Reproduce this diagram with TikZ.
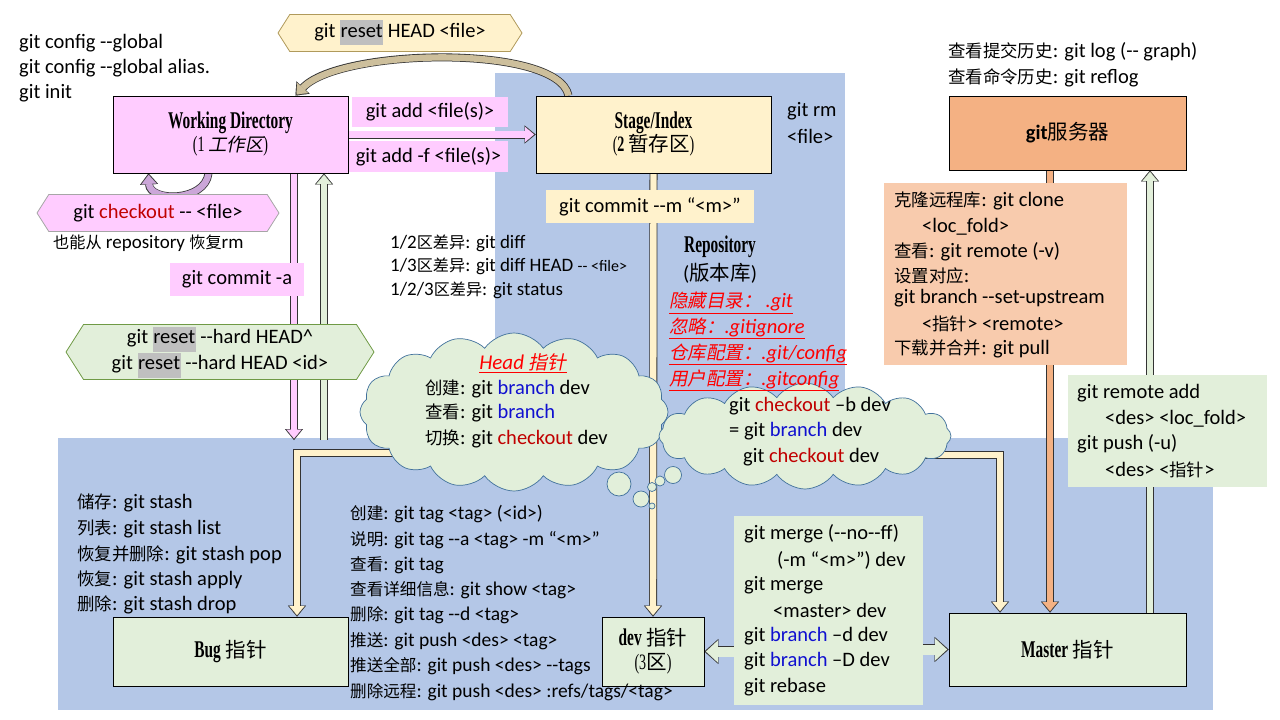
\documentclass[tikz,border=0pt]{standalone}
\usepackage{fontspec}
\setmainfont{Carlito}[Ligatures=TeXOff]
\newfontfamily\cjk{Noto Sans CJK SC}[Scale=0.85]
\newfontfamily\cjkbig{Noto Sans CJK SC}
\newfontfamily\cjkit{Noto Sans CJK SC}[FakeSlant=0.2, Scale=0.9]
\newfontfamily\ttl{Liberation Serif}[FakeStretch=0.64]
\usetikzlibrary{arrows.meta,shapes.symbols}

\definecolor{bluebg}{HTML}{B4C7E7}
\definecolor{pinkfill}{HTML}{FFCCFF}
\definecolor{cream}{HTML}{FFF2CC}
\definecolor{greenfill}{HTML}{E2EFDA}
\definecolor{orangefill}{HTML}{F4B183}
\definecolor{orangelight}{HTML}{F8CBAD}
\definecolor{hexgold}{HTML}{B09A5B}
\definecolor{hexgreen}{HTML}{6F9A45}
\definecolor{cloudline}{HTML}{41719C}
\definecolor{hlgray}{HTML}{BFBFBF}
\definecolor{ckred}{HTML}{C00000}
\definecolor{brblue}{HTML}{1010D0}
\definecolor{linkred}{HTML}{FF0000}
\definecolor{resettan}{HTML}{CDBF9C}
\definecolor{lilac}{HTML}{CBA6D8}

\newcommand\z[1]{{\cjk #1}}
\newcommand\zb[1]{{\cjkbig #1}}
\newcommand\ttlb[1]{{\ttl\bfseries\fontsize{24}{26}\selectfont #1}}
\newcommand\ckc[1]{\textcolor{ckred}{#1}}
\newcommand\brc[1]{\textcolor{brblue}{#1}}
\newcommand\hl[1]{{\setlength{\fboxsep}{0.5pt}\colorbox{hlgray}{\strut #1}}}
\newcommand\lnk[2]{\textcolor{linkred}{\underline{{\cjkit #1}\textit{#2}}}}

\pgfdeclarelayer{bg}
\pgfdeclarelayer{arr}
\pgfsetlayers{bg,arr,main}

\begin{document}
\begin{tikzpicture}[x=1pt, y=-1pt, font=\fontsize{20.5}{24}\selectfont,
  box/.style={draw=black, line width=0.8pt, fill=#1, inner sep=2pt, align=center},
  tagbox/.style={fill=#1, inner sep=0pt},
  lbl/.style={anchor=west, inner sep=0pt},
  hexa/.style={signal, signal to=east and west, signal pointer angle=115, fill=#1, line width=0.8pt, inner sep=1pt, align=center},
  puff/.style={cloud, cloud puffs=16, cloud puff arc=110, cloud ignores aspect, draw=cloudline, fill=greenfill, line width=0.7pt, inner sep=0pt},
  bubble/.style={circle, draw=cloudline, fill=greenfill, line width=0.7pt, inner sep=0pt},
  blockarrow/.style={line join=miter, draw=#1, line width=6.4pt, shorten >=1.5pt,
    -{Triangle[length=9pt, width=15pt, fill=#1, line width=0.1pt]},
    preaction={draw=black!80, line width=8pt, shorten >=0pt, -{Triangle[length=11pt, width=18pt, line width=0.1pt]}}},
  widearrow/.style={line join=miter, draw=#1, line width=10pt, shorten >=1.5pt,
    -{Triangle[length=12pt, width=22pt, fill=#1, line width=0.1pt]},
    preaction={draw=black!80, line width=11.6pt, shorten >=0pt, -{Triangle[length=14pt, width=25pt, line width=0.1pt]}}}]
	\useasboundingbox (0,0) rectangle (1280,720);

	% Blue areas
	\begin{pgfonlayer}{bg}
		\fill[bluebg] (495,73) rectangle (845,440);
		\fill[bluebg] (58,438) rectangle (1213,710);
	\end{pgfonlayer}

	% Main areas and pointers
	\node[box=pinkfill, minimum width=235pt, minimum height=77pt] (wd) at (230.5,134.5) {\ttlb{Working Directory}\\[-1pt]{\ttl\fontsize{22}{24}\selectfont (1 }{\cjkit 工作区}{\ttl\fontsize{22}{24}\selectfont )}};
	\node[box=cream, minimum width=235pt, minimum height=77pt] (stage) at (653.5,134.5) {\ttlb{Stage/Index}\\[-1pt]{\ttl\fontsize{22}{24}\selectfont (\textbf{2} }\zb{暂存区}{\ttl\fontsize{22}{24}\selectfont )}};
	\node[box=orangefill, minimum width=237pt, minimum height=74pt] (server) at (1067.5,133) {\textbf{git}\zb{服务器}};
	\node[box=greenfill, minimum width=235pt, minimum height=69pt] (bug) at (230.5,651.5) {\ttlb{Bug} \zb{指针}};
	\node[box=greenfill, minimum width=102pt, minimum height=69pt] (dev) at (653,651.5) {\ttlb{dev} \zb{指针}\\{\ttl\fontsize{22}{24}\selectfont (3}\zb{区}{\ttl\fontsize{22}{24}\selectfont )}};
	\node[box=greenfill, minimum width=237pt, minimum height=73pt] (master) at (1067.5,649.5) {\ttlb{Master} \zb{指针}};

	% Command boxes
	\node[tagbox=pinkfill, minimum width=156pt, minimum height=30pt] (add) at (430,112) {git add <file(s)>};
	\node[tagbox=pinkfill, minimum width=159pt, minimum height=31pt] (addf) at (428.5,156.5) {git add -f <file(s)>};
	\node[tagbox=pinkfill, minimum width=134pt, minimum height=33pt] (cma) at (237,279.5) {git commit -a};
	\node[tagbox=cream, minimum width=208pt, minimum height=33pt] (cmm) at (650,206.5) {git commit --m “<m>”};
	\node[tagbox=orangelight, minimum width=243pt, minimum height=182pt] (clonebox) at (1005.5,274) {};
	\node[tagbox=greenfill, minimum width=199pt, minimum height=112pt] (pushbox) at (1167.5,431) {};
	\node[tagbox=greenfill, minimum width=189pt, minimum height=189pt] (mergebox) at (828.5,610.5) {};

	% Hexagons
	\node[hexa=cream, draw=hexgold, minimum width=244pt, minimum height=37pt] (rst) at (400,33) {git \hl{reset} HEAD <file>};
	\node[hexa=pinkfill, draw=gray!70, minimum width=242pt, minimum height=37pt] (ckfile) at (158,213) {git \ckc{checkout} -- <file>};
	\node[hexa=greenfill, draw=hexgreen, minimum width=308pt, minimum height=55pt] (hard) at (220,352) {git \hl{reset} --hard HEAD\textasciicircum\\git \hl{reset} --hard HEAD <id>};

	% Clouds
	\node[puff, minimum width=308pt, minimum height=158pt] (head) at (514,412) {};
	\node[puff, minimum width=292pt, minimum height=106pt] (cko) at (805,436) {};
	\node[bubble, minimum size=24pt] (bb1) at (619,484) {};
	\node[bubble, minimum size=16pt] (bb2) at (641,499) {};
	\node[bubble, minimum size=9pt] (bb3) at (652,487) {};
	\node[bubble, minimum size=10pt] (bb4) at (660,481) {};
	\node[bubble, minimum size=17pt] (bb5) at (673,475) {};
	\node[bubble, minimum size=6pt] (bb6) at (652,506) {};

	% Arrows
	\begin{pgfonlayer}{arr}
		\coordinate (pinkend) at (294,440);
		\coordinate (greenbeg) at (324,440);
		\coordinate (lbend) at (297,453);
		\coordinate (rbend) at (1000,455);
		\draw[blockarrow=pinkfill] (wd.east) -- (stage.west);
		\draw[blockarrow=pinkfill] (wd.south -| pinkend) -- (pinkend);
		\draw[blockarrow=greenfill] (greenbeg) -- (wd.south -| greenbeg);
		\draw[blockarrow=cream] (stage.south) -- (dev.north);
		\draw[blockarrow=orangefill] ([xshift=-17.5pt]server.south) -- ([xshift=-17.5pt]master.north);
		\draw[blockarrow=greenfill] ([xshift=82.5pt]master.north) -- ([xshift=82.5pt]server.south);
		\draw[blockarrow=cream] (head.center |- lbend) -- (lbend) -- (lbend |- bug.north);
		\draw[blockarrow=cream] (cko.center |- rbend) -- (rbend) -- (rbend |- master.north);
		\draw[blockarrow=resettan] ([xshift=-85pt]stage.north) .. controls (558,44) and (340,48) .. ([xshift=65pt]wd.north);
		\draw[blockarrow=lilac] ([xshift=-22pt]wd.south) .. controls (205,202) and (150,202) .. ([xshift=-82pt]wd.south);
		\draw[widearrow=greenfill] (mergebox.west |- dev.east) -- (dev.east);
		\draw[widearrow=greenfill] (mergebox.east |- master.west) -- (master.west);
	\end{pgfonlayer}

	% Free texts
	\foreach \t [count=\i] in {git config --global, git config --global alias., git init}
		\node[lbl] (cfg\i) at (19,18+25*\i) {\t};
	\node[lbl] (log1) at (948,52) {\z{查看提交历史}: git log (-- graph)};
	\node[lbl] (log2) at (948,78) {\z{查看命令历史}: git reflog};
	\node[lbl] (rm1) at (787,111) {git rm};
	\node[lbl] (rm2) at (787,136) {<file>};
	\node[lbl, font=\fontsize{19}{22}\selectfont] (restore) at (53,243) {\z{也能从} repository \z{恢复}rm};
	\node[lbl, font=\fontsize{19}{22}\selectfont] (diff1) at (390,243) {1/2\z{区差异}: git diff};
	\node[lbl, font=\fontsize{19}{22}\selectfont] (diff2) at (390,266) {1/3\z{区差异}: git diff HEAD {\fontsize{16}{18}\selectfont -- <file>}};
	\node[lbl, font=\fontsize{19}{22}\selectfont] (diff3) at (390,290) {1/2/3\z{区差异}: git status};

	% Repository
	\node (repo) at (720,247) {\ttlb{Repository}};
	\node (repocn) at (720,273) {(\zb{版本库})};
	\node[lbl] (lk1) at (669,303) {\lnk{隐藏目录： }{.git}};
	\node[lbl] (lk2) at (669,328) {\lnk{忽略：}{.gitignore}};
	\node[lbl] (lk3) at (669,354) {\lnk{仓库配置：}{.git/config}};
	\node[lbl] (lk4) at (669,380) {\lnk{用户配置：}{.gitconfig}};

	% Cloud texts
	\node[font=\fontsize{21}{24}\selectfont] (headt) at (523,363) {\textcolor{linkred}{\underline{\textit{Head} {\cjkit 指针}}}};
	\node[lbl] (hd1) at (425,389) {\z{创建}: git \brc{branch} dev};
	\node[lbl] (hd2) at (425,413) {\z{查看}: git \brc{branch}};
	\node[lbl] (hd3) at (425,439) {\z{切换}: git \ckc{checkout} dev};
	\node[lbl] (ck1) at (729,406) {git \ckc{checkout} –b dev};
	\node[lbl] (ck2) at (729,431) {= git \brc{branch} dev};
	\node[lbl] (ck3) at (743,457) {git \ckc{checkout} dev};

	% Remote texts
	\foreach \x/\y/\t [count=\i] in {894/201/{\z{克隆远程库}: git clone}, 922/227/{<loc\_fold>}, 894/252/{\z{查看}: git remote (-v)}, 894/276/{\z{设置对应}:}, 894/298/{git branch --set-upstream}, 922/324/{<\z{指针}> <remote>}, 894/349/{\z{下载并合并}: git pull}}
		\node[lbl] (clone\i) at (\x,\y) {\t};
	\foreach \x/\y/\t [count=\i] in {1077/393/{git remote add}, 1105/419/{<des> <loc\_fold>}, 1077/444/{git push (-u)}, 1105/470/{<des> <\z{指针}>}}
		\node[lbl] (push\i) at (\x,\y) {\t};

	% Stash, tag and merge texts
	\foreach \y/\t [count=\i] in {503/{\z{储存}: git stash}, 529/{\z{列表}: git stash list}, 555/{\z{恢复并删除}: git stash pop}, 580/{\z{恢复}: git stash apply}, 605/{\z{删除}: git stash drop}}
		\node[lbl] (stash\i) at (77,\y) {\t};
	\foreach \y/\t [count=\i] in {514/{\z{创建}: git tag <tag> (<id>)}, 540/{\z{说明}: git tag --a <tag> -m “<m>”}, 565/{\z{查看}: git tag}, 590/{\z{查看详细信息}: git show <tag>}, 615/{\z{删除}: git tag --d <tag>}, 641/{\z{推送}: git push <des> <tag>}, 666/{\z{推送全部}: git push <des> --tags}, 692/{\z{删除远程}: git push <des> :refs/tags/<tag>}}
		\node[lbl, font=\fontsize{19.5}{22}\selectfont] (tag\i) at (350,\y) {\t};
	\foreach \x/\y/\t [count=\i] in {744/534/{git merge (--no--ff)}, 777/560/{(-m “<m>”) dev}, 744/585/{git merge}, 773/610/{<master> dev}, 744/636/{git \brc{branch} –d dev}, 744/661/{git \brc{branch} –D dev}, 744/687/{git rebase}}
		\node[lbl] (merge\i) at (\x,\y) {\t};

\end{tikzpicture}
\end{document}
